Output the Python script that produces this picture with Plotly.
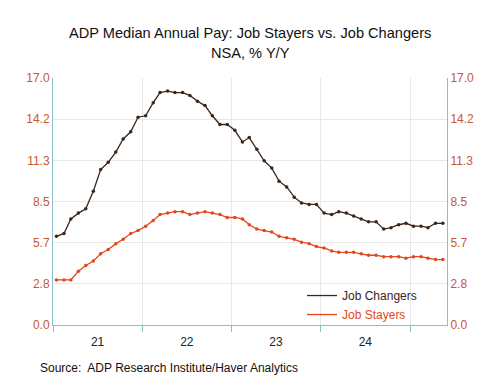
import plotly.graph_objects as go

months = [f"{y}-{m:02d}-15" for y in range(2021, 2026) for m in range(1, 13)][:53]

job_changers = [
    6.1, 6.3, 7.3, 7.7, 8.0, 9.2, 10.7, 11.2, 11.9, 12.8, 13.3, 14.3,
    14.4, 15.3, 16.0, 16.1, 16.0, 16.0, 15.8, 15.4, 15.1, 14.4, 13.8, 13.8,
    13.4, 12.6, 12.9, 12.1, 11.3, 10.8, 9.9, 9.5, 8.8, 8.4, 8.3, 8.3,
    7.7, 7.6, 7.8, 7.7, 7.5, 7.3, 7.1, 7.1, 6.6, 6.7, 6.9, 7.0,
    6.8, 6.8, 6.7, 7.0, 7.0,
]
job_stayers = [
    3.1, 3.1, 3.1, 3.7, 4.1, 4.4, 4.9, 5.2, 5.6, 5.9, 6.3, 6.5,
    6.8, 7.2, 7.6, 7.7, 7.8, 7.8, 7.6, 7.7, 7.8, 7.7, 7.6, 7.4,
    7.4, 7.3, 6.9, 6.6, 6.5, 6.4, 6.1, 6.0, 5.9, 5.7, 5.6, 5.4,
    5.3, 5.1, 5.0, 5.0, 5.0, 4.9, 4.8, 4.8, 4.7, 4.7, 4.7, 4.6,
    4.7, 4.7, 4.6, 4.5, 4.5,
]
ytick_vals = [0, 17 / 6, 34 / 6, 8.5, 68 / 6, 85 / 6, 17]
ytick_text = ["0.0", "2.8", "5.7", "8.5", "11.3", "14.2", "17.0"]

C_CHG = "#3b2619"
C_STY = "#e5471b"
C_TICK = "#c8582d"
C_AXIS = "#86c2c9"
C_GRID = "#e8e8e8"
FONT = "Liberation Sans, Arial, sans-serif"

fig = go.Figure()
fig.add_trace(go.Scatter(x=months, y=job_changers, mode="lines+markers",
                         line=dict(color=C_CHG, width=1.3), marker=dict(size=3.5, color=C_CHG),
                         showlegend=False))
fig.add_trace(go.Scatter(x=months, y=job_stayers, mode="lines+markers",
                         line=dict(color=C_STY, width=1.3), marker=dict(size=3.5, color=C_STY),
                         showlegend=False))
# legend entries (line only)
fig.add_trace(go.Scatter(x=[None], y=[None], mode="lines", yaxis="y2",
                         line=dict(color=C_CHG, width=1.3),
                         name=f"<span style='color:{C_CHG}'>Job Changers</span>"))
fig.add_trace(go.Scatter(x=[None], y=[None], mode="lines", yaxis="y2",
                         line=dict(color=C_STY, width=1.3),
                         name=f"<span style='color:{C_STY}'>Job Stayers</span>"))

yax = dict(range=[0, 17], tickmode="array", tickvals=ytick_vals, ticktext=ytick_text,
           tickfont=dict(color=C_TICK, size=12, family=FONT), showline=True,
           linecolor=C_AXIS, linewidth=1, showgrid=True, gridcolor=C_GRID, zeroline=False,
           ticks="", fixedrange=True)

# page body has an 8px margin, so the figure is sized/margined to land at the reference pixels
fig.update_layout(
    width=492, height=367,
    margin=dict(l=45, r=53, t=70, b=50),
    paper_bgcolor="white", plot_bgcolor="white",
    font=dict(family=FONT, size=12, color="#222"),
    xaxis=dict(type="date", range=["2021-01-01", "2025-06-01"], dtick="M12",
               tick0="2021-01-01", tickformat="%y", ticklabelmode="period",
               ticks="outside", ticklen=6, tickcolor=C_AXIS, showline=True,
               linecolor=C_AXIS, showgrid=True, gridcolor=C_GRID,
               tickfont=dict(color="#222", size=12, family=FONT)),
    yaxis=yax,
    yaxis2=dict(yax, overlaying="y", side="right", showgrid=False),
    legend=dict(x=0.632, y=0.178, xanchor="left", yanchor="top",
                bgcolor="rgba(0,0,0,0)", itemwidth=30, tracegroupgap=0,
                font=dict(size=12, family=FONT)),
    annotations=[
        dict(text="ADP Median Annual Pay: Job Stayers vs. Job Changers", xref="paper", yref="paper",
             x=0.5, y=(325 - 33) / 247, xanchor="center", yanchor="middle", showarrow=False,
             font=dict(size=14.6, family=FONT, color="#111")),
        dict(text="NSA, % Y/Y", xref="paper", yref="paper",
             x=0.5, y=(325 - 53) / 247, xanchor="center", yanchor="middle", showarrow=False,
             font=dict(size=14.6, family=FONT, color="#111")),
        dict(text="Source:  ADP Research Institute/Haver Analytics", xref="paper", yref="paper",
             x=(38 - 53) / 394, y=(325 - 368) / 247, xanchor="left", yanchor="middle",
             showarrow=False, font=dict(size=12, family=FONT, color="#111")),
    ],
)

fig.write_html("out.html")
